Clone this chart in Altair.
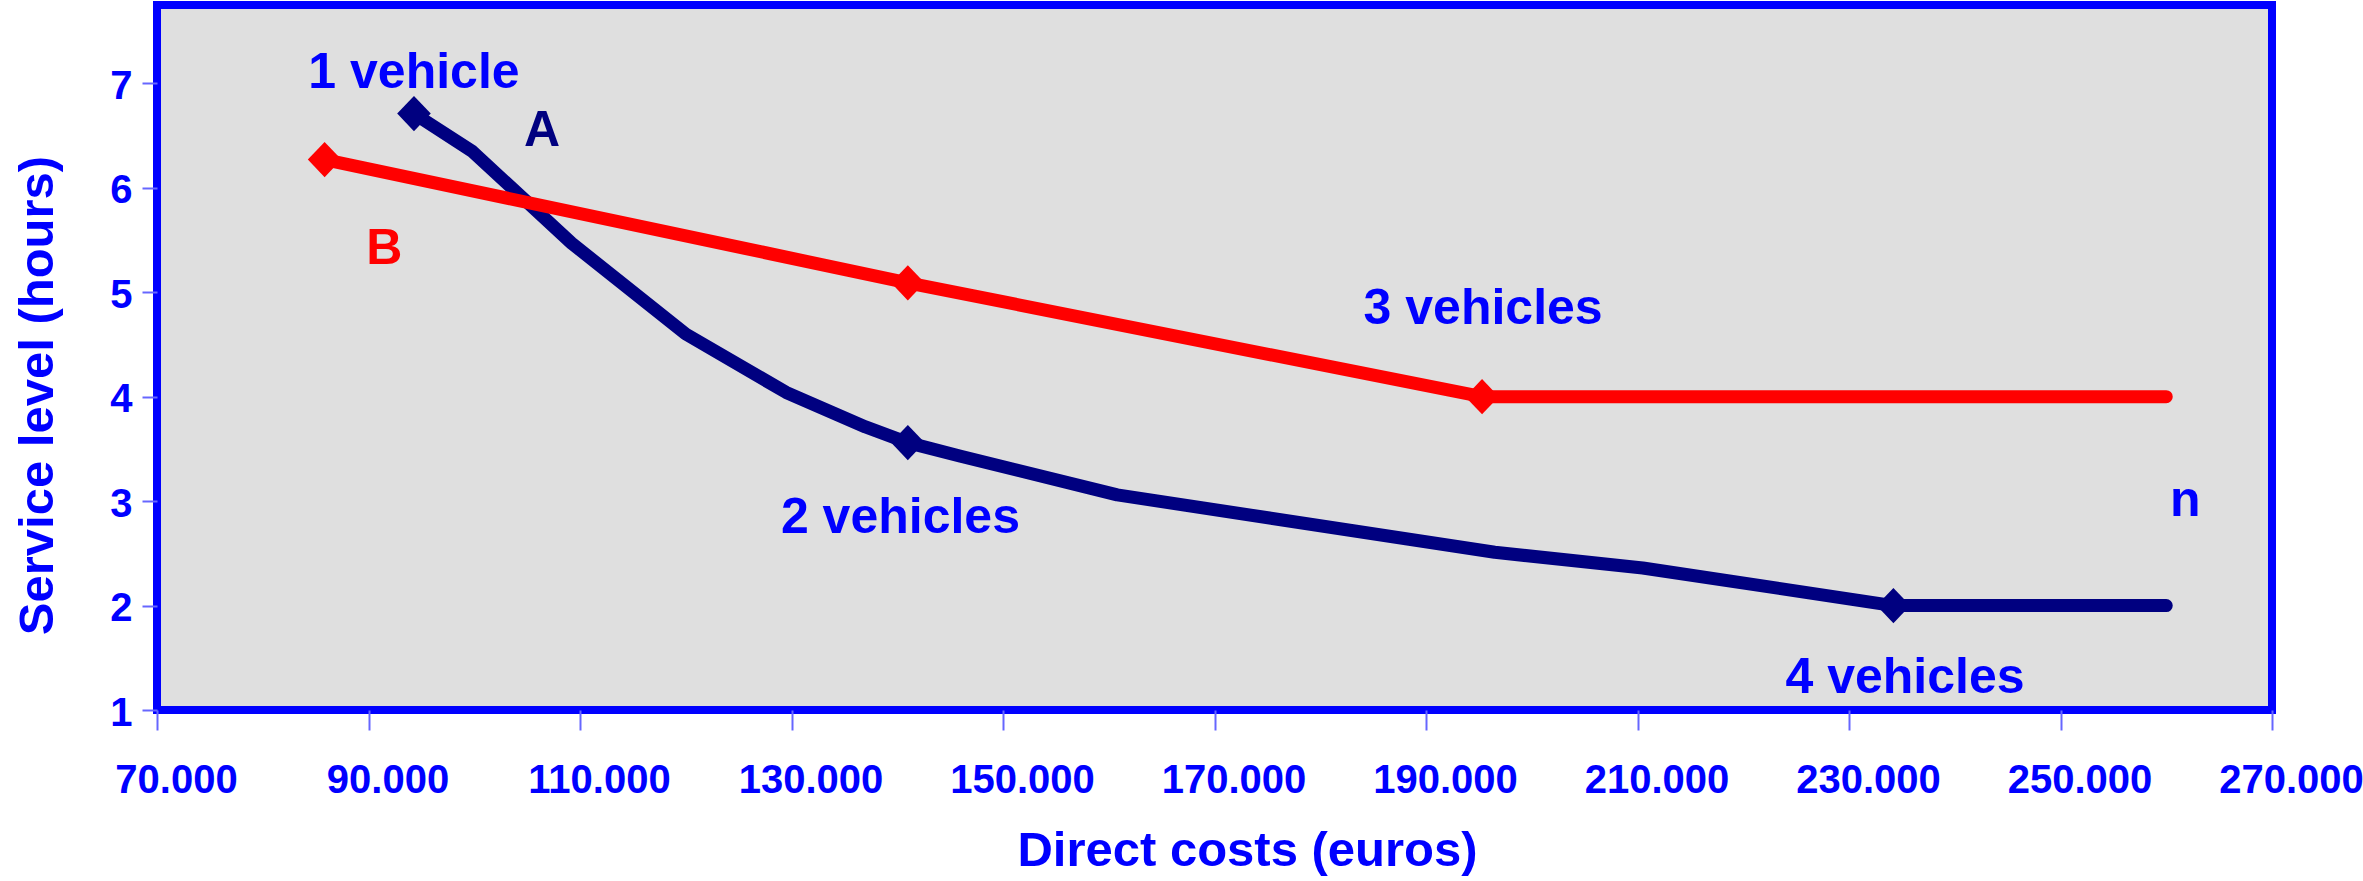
import altair as alt
import pandas as pd

# Series A (navy): direct costs (euros) vs service level (hours)
a_cost = [94300, 99800, 109200, 120000, 129500, 137000, 141000, 146000, 160800, 196500, 210500, 234200, 260000]
a_hours = [6.71, 6.35, 5.47, 4.60, 4.04, 3.71, 3.56, 3.43, 3.06, 2.51, 2.36, 2.00, 2.00]
a_marker = [1, 0, 0, 0, 0, 0, 1, 0, 0, 0, 0, 1, 0]

# Series B (red)
b_cost = [85850, 141000, 195300, 260000]
b_hours = [6.27, 5.09, 4.00, 4.00]
b_marker = [1, 1, 1, 0]

# Annotations
lab_text = ["1 vehicle", "A", "B", "3 vehicles", "2 vehicles", "n", "4 vehicles"]
lab_cost = [94300, 106400, 91500, 195400, 140300, 261800, 235300]
lab_hours = [6.96, 6.40, 5.27, 4.70, 2.69, 2.86, 1.16]
lab_color = ["#0000FF", "#000080", "#FF0000", "#0000FF", "#0000FF", "#0000FF", "#0000FF"]

x_ticks = [70000, 90000, 110000, 130000, 150000, 170000, 190000, 210000, 230000, 250000, 270000]
y_ticks = [1, 2, 3, 4, 5, 6, 7]

rows = []
for i, (c, h, m) in enumerate(zip(a_cost, a_hours, a_marker)):
    rows.append({"series": "A", "cost": c, "hours": h, "marker": m, "order": i})
for i, (c, h, m) in enumerate(zip(b_cost, b_hours, b_marker)):
    rows.append({"series": "B", "cost": c, "hours": h, "marker": m, "order": i})
df = pd.DataFrame(rows)

labels = pd.DataFrame({"text": lab_text, "cost": lab_cost, "hours": lab_hours, "color": lab_color})

FONT = "Liberation Sans"
BLUE = "#0000FF"

xscale = alt.Scale(domain=[70000, 270000], nice=False, zero=False)
yscale = alt.Scale(domain=[1, 7.75], nice=False, zero=False)
cscale = alt.Scale(domain=["B", "A"], range=["#FF0000", "#000080"])

x_enc = alt.X(
    "cost:Q", scale=xscale,
    axis=alt.Axis(
        title="Direct costs (euros)", values=x_ticks, format=",.0f",
        labelExpr="replace(datum.label, ',', '.')",
        domain=False, grid=False, tickColor="#6666FF", tickWidth=2, tickSize=20,
        labelPadding=30, labelOffset=19, labelFont=FONT, labelFontSize=40,
        labelFontWeight="bold", labelColor=BLUE, labelFlush=False, labelOverlap=False,
        titleFont=FONT, titleFontSize=49, titleFontWeight="bold", titleColor=BLUE,
        titleX=1090, titleY=155, titleAlign="center", titleBaseline="alphabetic",
    ),
)
y_enc = alt.Y(
    "hours:Q", scale=yscale,
    axis=alt.Axis(
        title="Service level (hours)", values=y_ticks, format="d",
        domain=False, grid=False, tickColor="#6666FF", tickWidth=2, tickSize=15,
        labelPadding=10, labelOffset=3, labelFont=FONT, labelFontSize=40,
        labelFontWeight="bold", labelColor=BLUE, labelFlush=False, labelOverlap=False,
        titleFont=FONT, titleFontSize=49, titleFontWeight="bold", titleColor=BLUE,
        titleX=-105, titleY=390, titleAlign="center", titleBaseline="alphabetic", titleAngle=270,
    ),
)

lines = alt.Chart(df).mark_line(strokeWidth=13, strokeCap="round", strokeJoin="round").encode(
    x=x_enc, y=y_enc,
    color=alt.Color("series:N", scale=cscale, legend=None),
    detail="series:N",
    order="order:Q",
)

points = alt.Chart(df).transform_filter("datum.marker == 1").mark_point(
    shape="M-0.95,0L0,-1L0.95,0L0,1Z", size=1250, filled=True, opacity=1
).encode(
    x=alt.X("cost:Q", scale=xscale),
    y=alt.Y("hours:Q", scale=yscale),
    color=alt.Color("series:N", scale=cscale, legend=None),
)

text = alt.Chart(labels).mark_text(
    font=FONT, fontSize=50, fontWeight="bold", align="center", baseline="alphabetic"
).encode(
    x=alt.X("cost:Q", scale=xscale),
    y=alt.Y("hours:Q", scale=yscale),
    text="text:N",
    color=alt.Color("color:N", scale=None, legend=None),
)

chart = (lines + points + text).properties(
    width=2115, height=705,
    autosize=alt.AutoSizeParams(type="none"),
    padding={"left": 157, "top": 5, "right": 91, "bottom": 171},
    background="white",
).configure_view(
    fill="#DFDFDF", stroke=BLUE, strokeWidth=8,
)

chart.save("out.html", embed_options={"renderer": "svg", "actions": False})
